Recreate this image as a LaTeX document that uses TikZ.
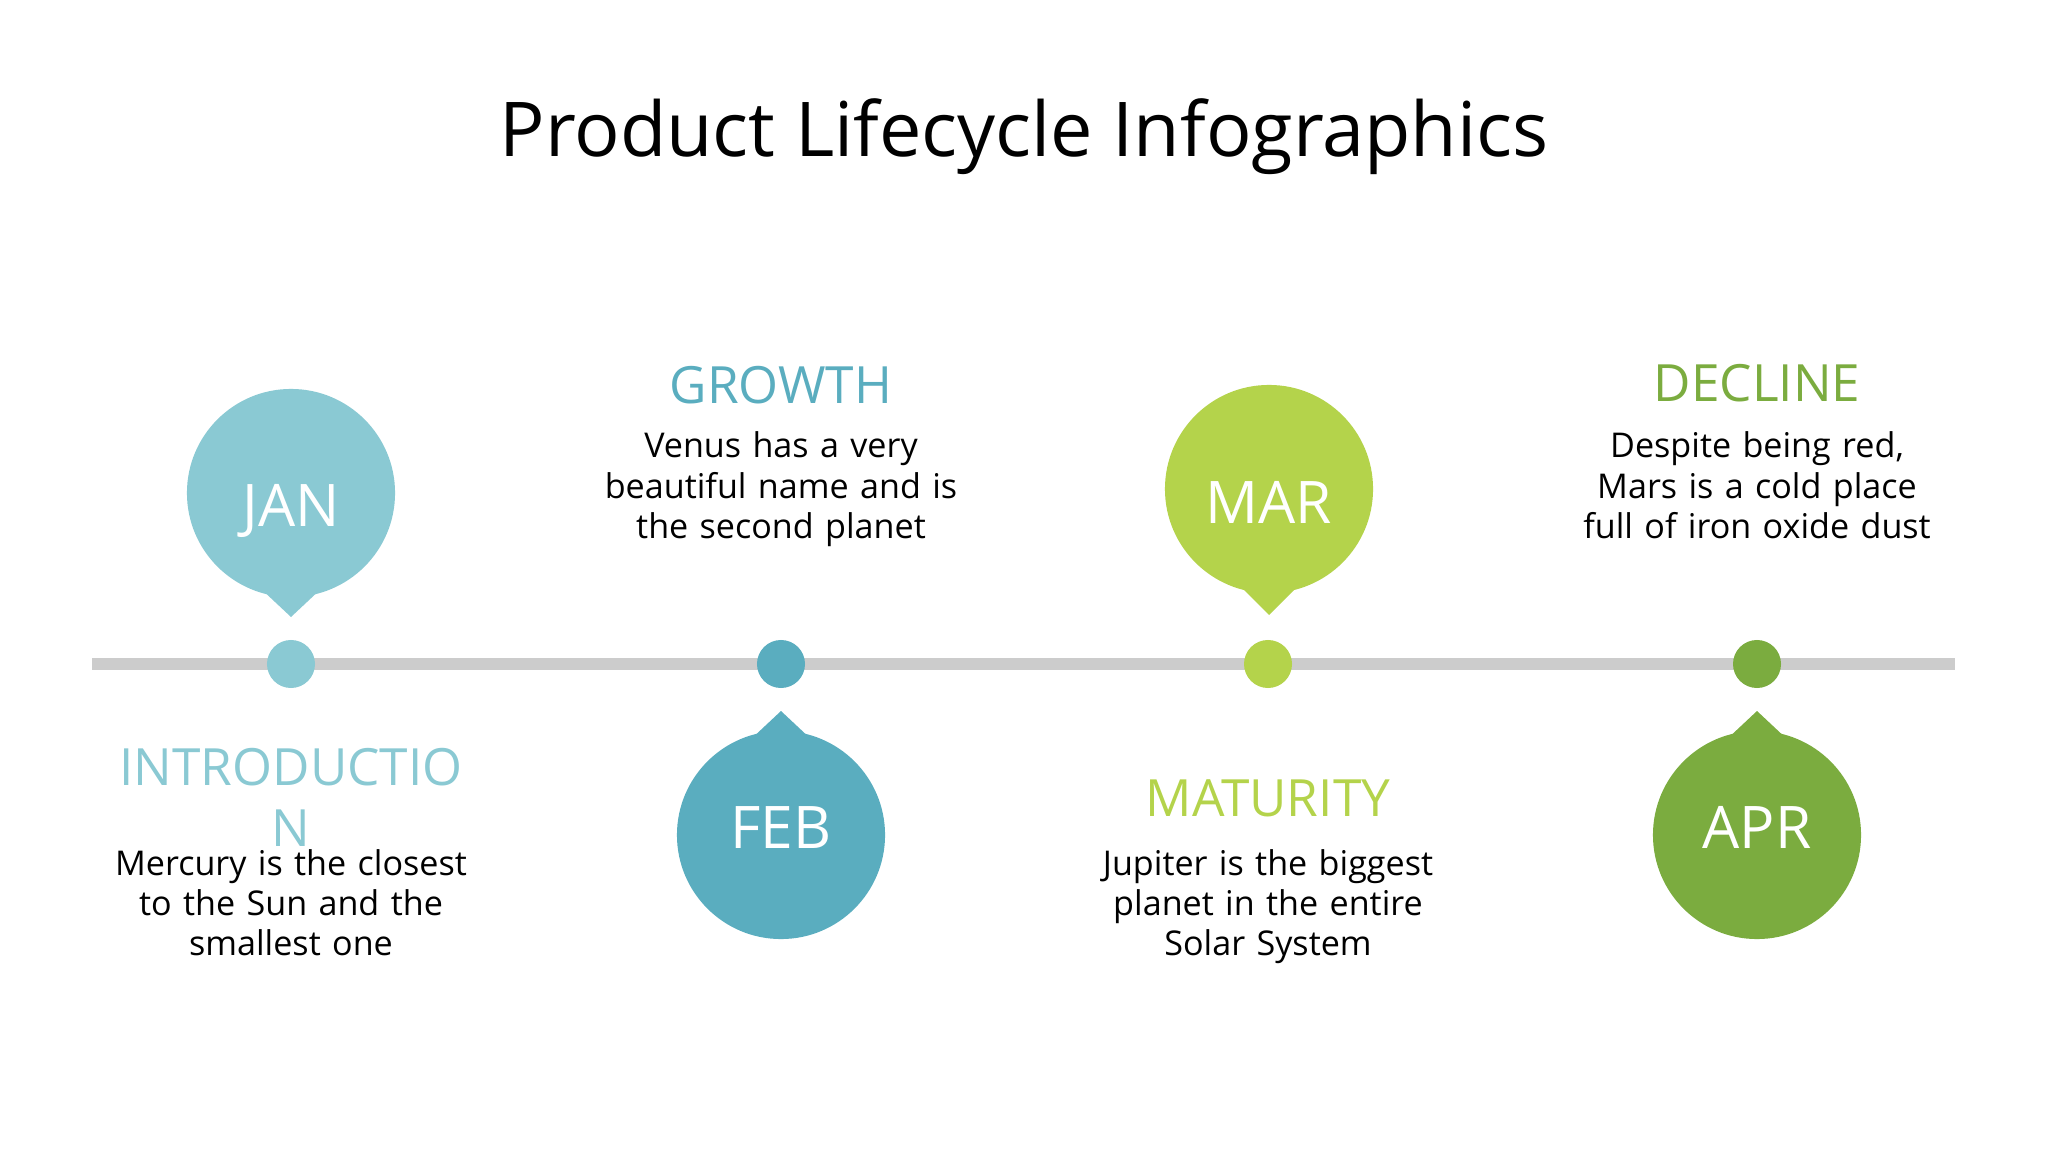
\documentclass[tikz,border=0pt]{standalone}
\usepackage{fontspec}
\setmainfont{Open Sans}
\usetikzlibrary{calc}
\definecolor{janc}{HTML}{8AC9D3}
\definecolor{febc}{HTML}{5AADBF}
\definecolor{marc}{HTML}{B4D34B}
\definecolor{aprc}{HTML}{7BAC3F}
\definecolor{linec}{HTML}{CCCCCC}

\begin{document}
\begin{tikzpicture}[x=0.01cm, y=-0.01cm,
    bubble/.style={circle, minimum size=2.08cm, inner sep=0pt},
    dot/.style={circle, minimum size=0.48cm, inner sep=0pt},
    month/.style={anchor=base, text=white, inner sep=0pt, font=\fontsize{16.7}{20}\selectfont},
    head/.style={anchor=base, align=center, text width=5cm, font=\fontsize{14.6}{17.6}\selectfont},
    body/.style={anchor=base, align=center, text width=5cm, font=\fontsize{9.7}{11.4}\selectfont}]
    \useasboundingbox (0,0) rectangle (2048,1152);

    \node[anchor=base, font=\fontsize{21.5}{26}\selectfont] (title) at (1024,157) {Product Lifecycle Infographics};

    \coordinate (start) at (92,664);
    \coordinate (end) at (1955,664);
    \draw[linec, line width=3.4pt] (start) -- (end);

    \node[dot, fill=janc] (d1) at (291,664) {};
    \node[dot, fill=febc] (d2) at (781,664) {};
    \node[dot, fill=marc] (d3) at (1268,664) {};
    \node[dot, fill=aprc] (d4) at (1757,664) {};

    \node[bubble, fill=janc] (jan) at (291,493) {};
    \node[bubble, fill=febc] (feb) at (781,835) {};
    \node[bubble, fill=marc] (mar) at (1269,489) {};
    \node[bubble, fill=aprc] (apr) at (1757,835) {};

    \fill[janc] ($(jan)+(-32,94)$) -- ($(jan)+(0,124)$) -- ($(jan)+(32,94)$) -- cycle;
    \fill[marc] ($(mar)+(-32,94)$) -- ($(mar)+(0,126)$) -- ($(mar)+(32,94)$) -- cycle;
    \fill[febc] ($(feb)+(-32,-94)$) -- ($(feb)+(0,-124)$) -- ($(feb)+(32,-94)$) -- cycle;
    \fill[aprc] ($(apr)+(-32,-94)$) -- ($(apr)+(0,-124)$) -- ($(apr)+(32,-94)$) -- cycle;

    \node[month] (jan-t) at ($(jan)+(0,34)$) {JAN};
    \node[month] (feb-t) at ($(feb)+(0,13)$) {FEB};
    \node[month] (mar-t) at ($(mar)+(0,35)$) {MAR};
    \node[month] (apr-t) at ($(apr)+(0,13)$) {APR};

    \node[head, text=febc] (grow-h) at (781,404) {GROWTH};
    \node[body] (grow-b) at (781,458) {Venus has a very\\beautiful name and is\\the second planet};
    \node[head, text=aprc] (decl-h) at (1757,402) {DECLINE};
    \node[body] (decl-b) at (1757,458) {Despite being red,\\Mars is a cold place\\full of iron oxide dust};
    \node[head, text=janc] (intro-h) at (291,785) {INTRODUCTIO\\N};
    \node[body] (intro-b) at (291,875) {Mercury is the closest\\to the Sun and the\\smallest one};
    \node[head, text=marc] (matu-h) at (1268,816) {MATURITY};
    \node[body] (matu-b) at (1268,875) {Jupiter is the biggest\\planet in the entire\\Solar System};
\end{tikzpicture}
\end{document}
